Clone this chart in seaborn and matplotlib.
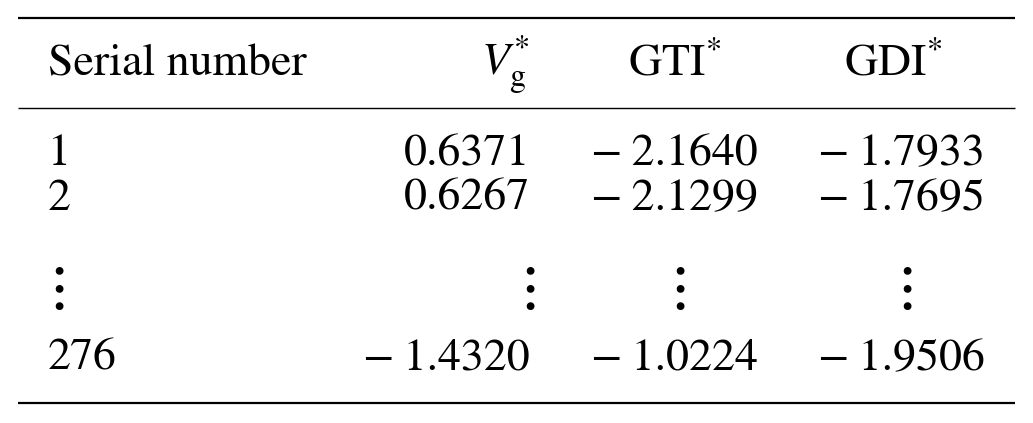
import matplotlib
matplotlib.use("Agg")
import matplotlib.pyplot as plt
import seaborn as sns

sns.set_theme(style="white")
plt.rcParams['font.family'] = ['STIXGeneral', 'Liberation Serif', 'DejaVu Serif']
plt.rcParams['mathtext.fontset'] = 'stix'
plt.rcParams['text.color'] = 'black'

headers = ["Serial number", r"$V_{\mathrm{g}}^{*}$", r"GTI$^{*}$", r"GDI$^{*}$"]
serial = ["1", "2", "276"]
vg = [0.6371, 0.6267, -1.4320]
gti = [-2.1640, -2.1299, -1.0224]
gdi = [-1.7933, -1.7695, -1.9506]

fig = plt.figure(figsize=(10.33, 4.23), dpi=100)
ax = fig.add_axes([0, 0, 1, 1])
ax.set_xlim(0, 1033)
ax.set_ylim(423, 0)
ax.axis('off')

fs = 33
def fmt(v):
    return ("\u2212\u2009" if v < 0 else "") + f"{abs(v):.4f}"

ax.hlines([18, 403], 18, 1015, color='black', lw=1.6)
ax.hlines([108], 18, 1015, color='black', lw=1.0)

hy = 75
ax.text(48, hy, headers[0], fontsize=fs, ha='left', va='baseline')
ax.text(530, hy, headers[1], fontsize=fs, ha='right', va='baseline')
ax.text(675, hy, headers[2], fontsize=fs, ha='center', va='baseline')
ax.text(893, hy, headers[3], fontsize=fs, ha='center', va='baseline')

rows_y = [165, 210, 370]
for i, y in enumerate(rows_y):
    ax.text(48, y, serial[i], fontsize=fs, ha='left', va='baseline')
    ax.text(530, y, fmt(vg[i]), fontsize=fs, ha='right', va='baseline')
    ax.text(758, y, fmt(gti[i]), fontsize=fs, ha='right', va='baseline')
    ax.text(985, y, fmt(gdi[i]), fontsize=fs, ha='right', va='baseline')

for x in [54, 525, 675, 902]:
    ax.text(x, 290, r"$\vdots$", fontsize=44, ha='center', va='center')

fig.savefig("out.png", dpi=100, facecolor='white')
